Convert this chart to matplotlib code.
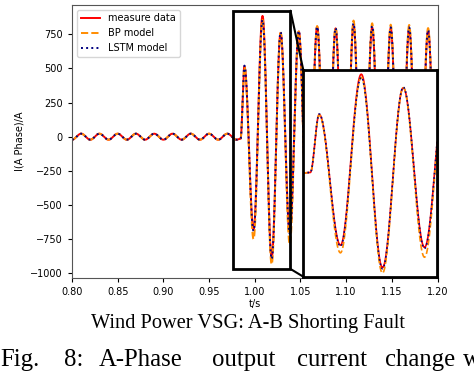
import numpy as np
import matplotlib
matplotlib.use("Agg")
import matplotlib.pyplot as plt
from matplotlib.patches import Rectangle, ConnectionPatch

# peaks / troughs (t in s, current in A)
t_pre = [0.800, 0.810, 0.820, 0.830, 0.840, 0.850, 0.860, 0.870, 0.880, 0.890,
         0.900, 0.910, 0.920, 0.930, 0.940, 0.950, 0.960, 0.970, 0.980]
i_pre = [-22, 22, -22, 22, -22, 22, -22, 22, -22, 22,
         -22, 22, -22, 22, -22, 22, -22, 22, -22]

t_post = [0.9845, 0.9887, 0.9987, 1.0085, 1.0185, 1.0283, 1.0383, 1.0482, 1.0582,
          1.0683, 1.0784, 1.0885, 1.0983, 1.1081, 1.1183, 1.1285, 1.1387, 1.1488,
          1.1589, 1.1690, 1.1794, 1.1897, 1.2000]
i_measure = [-15, 515, -680, 884, -885, 760, -700, 770, -800,
             805, -820, 793, -830, 818, -850, 800, -860, 795,
             -850, 790, -840, 775, -800]
i_bp = [-15, 510, -750, 855, -935, 760, -790, 770, -860,
        810, -870, 800, -880, 850, -900, 830, -900, 820,
        -890, 818, -880, 795, -840]
i_lstm = [-15, 520, -690, 855, -895, 765, -710, 775, -810,
          805, -825, 795, -835, 830, -855, 810, -865, 800,
          -855, 800, -845, 780, -805]

labels = ["measure data", "BP model", "LSTM model"]
colors = ["red", "#ff8c00", "navy"]
styles = ["-", "--", ":"]


def wave(tp, vp, n=30):
    # smooth half-cosine stroke between successive extrema
    tt, vv = [], []
    for k in range(len(tp) - 1):
        s = np.linspace(0, 1, n, endpoint=False)
        tt.append(tp[k] + (tp[k + 1] - tp[k]) * s)
        vv.append(vp[k] + (vp[k + 1] - vp[k]) * (1 - np.cos(np.pi * s)) / 2)
    tt.append([tp[-1]])
    vv.append([vp[-1]])
    return np.concatenate(tt), np.concatenate(vv)


series = []
for vals in (i_measure, i_bp, i_lstm):
    series.append(wave(t_pre + t_post, i_pre + vals))

fig = plt.figure(figsize=(4.74, 3.79), dpi=100)
ax = fig.add_axes([0.1519, 0.2673, 0.7711, 0.7203])

for (t, y), lab, c, ls in zip(series, labels, colors, styles):
    ax.plot(t, y, ls, color=c, lw=1.4, label=lab)

ax.set_xlim(0.8, 1.2)
ax.set_ylim(-1032, 966)
ax.set_xticks([0.80, 0.85, 0.90, 0.95, 1.00, 1.05, 1.10, 1.15, 1.20])
ax.set_yticks([-1000, -750, -500, -250, 0, 250, 500, 750])
ax.tick_params(labelsize=7, length=3)
ax.set_xlabel("t/s", fontsize=7, labelpad=2)
ax.set_ylabel("I(A Phase)/A", fontsize=7)
for sp in ax.spines.values():
    sp.set_color("#555555")
ax.legend(loc="upper left", fontsize=7)

# zoom box on the main axes
box = Rectangle((0.9766, -968), 0.0625, 1890, fill=False, lw=2, ec="black", zorder=5)
ax.add_patch(box)

ins = fig.add_axes([0.6399, 0.2699, 0.2821, 0.5454])
for (t, y), c, ls in zip(series, colors, styles):
    ins.plot(t, y, ls, color=c, lw=1.2)
ins.set_xlim(0.9812, 1.0442)
ins.set_ylim(-968, 922)
ins.set_xticks([])
ins.set_yticks([])
for sp in ins.spines.values():
    sp.set_linewidth(2)
    sp.set_color("black")

for yb, yi in ((922, 1), (-968, 0)):
    con = ConnectionPatch(xyA=(1.0391, yb), coordsA=ax.transData,
                          xyB=(0, yi), coordsB=ins.transAxes,
                          color="black", lw=1.5)
    fig.add_artist(con)

fig.text(248 / 474, 1 - 328 / 379, "Wind Power VSG: A-B Shorting Fault",
         ha="center", va="baseline", family="Liberation Serif", fontsize=14.7)

# justified caption line, cut off at the right edge like the scan
words = ["Fig.", "8:", "A-Phase", "output", "current", "change", "wh"]
word_x = [0, 64, 99, 212, 297, 385, 463]
for w, x in zip(words, word_x):
    fig.text(x / 474, 1 - 366 / 379, w, ha="left", va="baseline",
             family="Liberation Serif", fontsize=17.8)

fig.savefig("out.png", dpi=100)
